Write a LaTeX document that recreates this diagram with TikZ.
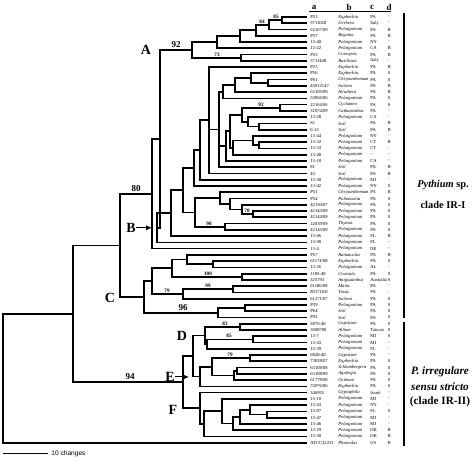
\documentclass[tikz,border=0pt]{standalone}
\usepackage{fontspec}
\setmainfont{Liberation Serif}
\newfontfamily\barfont{Liberation Sans}
\usetikzlibrary{arrows.meta}

\begin{document}
\begin{tikzpicture}[x=0.5pt, y=-3.13pt,
    branch/.style={line width=0.85pt},
    leaf/.style={anchor=west, inner sep=0pt, font=\fontsize{2.3}{2.6}\selectfont},
    boot/.style={anchor=south, inner sep=0.5pt, font=\bfseries\fontsize{2.6}{3}\selectfont},
    bootbig/.style={anchor=south, inner sep=1pt, font=\bfseries\fontsize{4.5}{5}\selectfont},
    cladeletter/.style={inner sep=0pt, font=\bfseries\fontsize{7}{8}\selectfont},
    groupname/.style={inner sep=0pt, font=\bfseries\fontsize{5.6}{6}\selectfont},
    colhead/.style={inner sep=0pt, font=\bfseries\fontsize{4.5}{5}\selectfont}]
    \useasboundingbox (0,-1.716) rectangle (474,72.25);

    % isolates: code / host / origin / resistance
    \foreach \row/\code/\host/\place/\res in {
        1/P53/Euphorbia/PA/-, 2/3711028/Gerbera/Italy/-, 3/{63167/09}/Pelargonium/PA/R,
        4/P57/Begonia/PA/R, 5/13-40/Pelargonium/NY/-, 6/13-22/Pelargonium/CA/R,
        7/P53/Coreopsis/PA/R, 8/3711448/Basilicum/Italy/-, 9/P23/Euphorbia/PA/R,
        10/P56/Euphorbia/PA/S, 11/P61/Chrysanthemum/PA/S, 12/45012147/Iochem/PA/R,
        13/{63105/09}/Heuchera/PA/R, 14/{52066/06}/Pelargonium/PA/S, 15/{22164/06}/Cyclamen/PA/S,
        16/{31074/09}/Catharanthus/PA/-, 17/13-28/Pelargonium/CA/-, 18/S1/Soil/PA/R,
        19/6-12/Soil/PA/R, 20/13-44/Pelargonium/NY/-, 21/13-32/Pelargonium/CT/R,
        22/13-33/Pelargonium/CT/-, 23/13-40/Pelargonium/-/-, 24/13-18/Pelargonium/CA/-,
        25/81/Soil/PA/R, 26/43/Soil/PA/R, 27/13-30/Pelargonium/MI/-,
        28/13-42/Pelargonium/NY/S, 29/P51/Chrysanthemum/PA/R, 30/P54/Pulmonaria/PA/S,
        31/{42150/07}/Pelargonium/PA/S, 32/{42143/09}/Pelargonium/PA/S, 33/{42144/09}/Pelargonium/PA/S,
        34/{22039/09}/Thymus/PA/S, 35/{42145/09}/Pelargonium/PA/S, 36/13-06/Pelargonium/FL/R,
        37/13-08/Pelargonium/FL/-, 38/13-4/Pelargonium/NE/-, 39/P57/Ranunculus/PA/R,
        40/{61174/08}/Euphorbia/PA/S, 41/13-26/Pelargonium/AL/-, 42/1185-48/Crassula/PA/S,
        43/325793/Anigozanthus/Australia/S, 44/{61186/08}/Malus/PA/-, 45/{801716/8}/Taxus/PA/-,
        46/{61271/07}/Iochem/PA/S, 47/P39/Pelargonium/PA/S, 48/P64/Soil/PA/S,
        49/P92/Soil/PA/S, 50/2876-40/Capsicum/PA/S, 51/3608700/Allium/Taiwan/S,
        52/13-7/Pelargonium/MI/S, 53/13-43/Pelargonium/MI/-, 54/13-39/Pelargonium/FL/-,
        55/6828-40/Capsicum/PA/-, 56/{73028/07}/Euphorbia/PA/S, 57/{63108/08}/Schlumbergera/PA/S,
        58/{63108/09}/Aquilegia/PA/S, 59/{61778/08}/Ocimum/PA/S, 60/{72076/06}/Euphorbia/PA/S,
        61/346955/Gypsophila/Israel/-, 62/13-10/Pelargonium/MI/-, 63/13-43/Pelargonium/NY/-,
        64/13-07/Pelargonium/FL/S, 65/13-47/Pelargonium/MI/-, 66/13-46/Pelargonium/MI/-,
        67/13-29/Pelargonium/OK/R, 68/13-30/Pelargonium/OK/R, 69/ATCC32231/Phaseolus/US/R}{
        \coordinate (l\row) at (307,\row);
        \node[leaf] (code\row) at (310,\row) {\code};
        \node[leaf, font=\fontsize{2.3}{2.6}\selectfont\itshape] (host\row) at (338,\row) {\host};
        \node[leaf] (place\row) at (370,\row) {\place};
        \node[leaf] (res\row) at (387.5,\row) {\res};
    }

    % column heads
    \node[colhead] (ha) at (314,-0.6) {a};
    \node[colhead] (hb) at (349,-0.6) {b};
    \node[colhead] (hc) at (372,-0.6) {c};
    \node[colhead] (hd) at (389,-0.6) {d};
    \draw[line width=0.5pt] (309,0.2) -- (391,0.2);

    % clade A
    \coordinate (n85) at (282,1.5);
    \coordinate (nA3) at (269,2.25);
    \coordinate (n84) at (256,3.125);
    \coordinate (nA5) at (240,4.06);
    \coordinate (nA6) at (217,5.03);
    \coordinate (n73) at (241,7.5);
    \coordinate (nA) at (192,6.27);
    % clade B
    \coordinate (nB268) at (268,11.5);
    \coordinate (nB251) at (251,10.75);
    \coordinate (nB235) at (235,11.875);
    \coordinate (nB223) at (223,12.94);
    \coordinate (n92) at (280,15.5);
    \coordinate (nB259) at (259,18.5);
    \coordinate (nB248) at (248,17.75);
    \coordinate (nB242) at (242,16.625);
    \coordinate (nB259b) at (259,21.5);
    \coordinate (nB253) at (253,20.75);
    \coordinate (nB233) at (233,21.875);
    \coordinate (nB230) at (230,19.25);
    \coordinate (nB226) at (226,21.625);
    \coordinate (nB219) at (219,18.97);
    \coordinate (nB209) at (209,17.5);
    \coordinate (nB200) at (200,22.25);
    \coordinate (nB194) at (194,25.125);
    \coordinate (n78) at (253,32.5);
    \coordinate (nB242c) at (242,31.75);
    \coordinate (nB230c) at (230,30.875);
    \coordinate (nB220) at (220,29.94);
    \coordinate (n90) at (225,34.5);
    \coordinate (nB195) at (195,32.22);
    \coordinate (nB183) at (183,28.67);
    \coordinate (nB171) at (171,32.33);
    \coordinate (nB) at (157,34.67);
    \coordinate (nAB) at (160,20.47);
    \coordinate (n80) at (152,29.24);
    % clade C
    \coordinate (nC213) at (213,40.5);
    \coordinate (nC187) at (187,39.75);
    \coordinate (n100) at (242,42.5);
    \coordinate (nC172) at (172,41.125);
    \coordinate (n99) at (233,44.5);
    \coordinate (nC79) at (183,45.25);
    \coordinate (nC1) at (152,43.19);
    \coordinate (nC245) at (245,47.5);
    \coordinate (n96) at (218,48.25);
    \coordinate (nC) at (144,45.72);
    \coordinate (nIR1) at (120,37.48);
    % clades D, E, F
    \coordinate (n83) at (240,50.5);
    \coordinate (nD85) at (253,52.5);
    \coordinate (nD1) at (207,53.25);
    \coordinate (nD) at (205,51.875);
    \coordinate (nE79) at (250,55.5);
    \coordinate (nE237) at (237,57.5);
    \coordinate (nE234) at (234,58.25);
    \coordinate (nE212) at (212,56.875);
    \coordinate (nE200) at (200,58.44);
    \coordinate (nDE) at (193,55.16);
    \coordinate (nF6) at (267,64.5);
    \coordinate (nF5) at (250,63.75);
    \coordinate (nF4) at (240,64.875);
    \coordinate (nF3) at (233,65.94);
    \coordinate (nF2) at (222,63.97);
    \coordinate (nF1) at (204,65.98);
    \coordinate (nF) at (200,63.49);
    \coordinate (nE) at (183,59.33);
    \coordinate (nII) at (73,48.4);
    \coordinate (root) at (3,58.7);

    \draw[branch] (n85) |- (l1) (n85) |- (l2);
    \draw[branch] (nA3) |- (n85) (nA3) |- (l3);
    \draw[branch] (n84) |- (nA3) (n84) |- (l4);
    \draw[branch] (nA5) |- (n84) (nA5) |- (l5);
    \draw[branch] (nA6) |- (nA5) (nA6) |- (l6);
    \draw[branch] (n73) |- (l7) (n73) |- (l8);
    \draw[branch] (nA) |- (nA6) (nA) |- (n73);
    \draw[branch] (nB268) |- (l11) (nB268) |- (l12);
    \draw[branch] (nB251) |- (l10) (nB251) |- (nB268);
    \draw[branch] (nB235) |- (nB251) (nB235) |- (l13);
    \draw[branch] (nB223) |- (nB235) (nB223) |- (l14);
    \draw[branch] (n92) |- (l15) (n92) |- (l16);
    \draw[branch] (nB259) |- (l18) (nB259) |- (l19);
    \draw[branch] (nB248) |- (l17) (nB248) |- (nB259);
    \draw[branch] (nB242) |- (n92) (nB242) |- (nB248);
    \draw[branch] (nB259b) |- (l21) (nB259b) |- (l22);
    \draw[branch] (nB253) |- (l20) (nB253) |- (nB259b);
    \draw[branch] (nB233) |- (nB253) (nB233) |- (l23);
    \draw[branch] (nB230) |- (nB242) (nB230) |- (nB233);
    \draw[branch] (nB226) |- (nB230) (nB226) |- (l24);
    \draw[branch] (nB219) |- (nB223) (nB219) |- (nB226) (nB219) |- (l25);
    \draw[branch] (nB209) |- (l9) (nB209) |- (nB219) (nB209) |- (l26);
    \draw[branch] (nB200) |- (nB209) (nB200) |- (l27);
    \draw[branch] (nB194) |- (nB200) (nB194) |- (l28);
    \draw[branch] (n78) |- (l32) (n78) |- (l33);
    \draw[branch] (nB242c) |- (l31) (nB242c) |- (n78);
    \draw[branch] (nB230c) |- (l30) (nB230c) |- (nB242c);
    \draw[branch] (nB220) |- (l29) (nB220) |- (nB230c);
    \draw[branch] (n90) |- (l34) (n90) |- (l35);
    \draw[branch] (nB195) |- (nB220) (nB195) |- (n90);
    \draw[branch] (nB183) |- (nB194) (nB183) |- (nB195);
    \draw[branch] (nB171) |- (nB183) (nB171) |- (l36);
    \draw[branch] (nB) |- (nB171) (nB) |- (l37);
    \draw[branch] (nAB) |- (nA) (nAB) |- (nB);
    \draw[branch] (n80) |- (nAB) (n80) |- (l38);
    \draw[branch] (nC213) |- (l40) (nC213) |- (l41);
    \draw[branch] (nC187) |- (l39) (nC187) |- (nC213);
    \draw[branch] (n100) |- (l42) (n100) |- (l43);
    \draw[branch] (nC172) |- (nC187) (nC172) |- (n100);
    \draw[branch] (n99) |- (l44) (n99) |- (l45);
    \draw[branch] (nC79) |- (n99) (nC79) |- (l46);
    \draw[branch] (nC1) |- (nC172) (nC1) |- (nC79);
    \draw[branch] (nC245) |- (l47) (nC245) |- (l48);
    \draw[branch] (n96) |- (nC245) (n96) |- (l49);
    \draw[branch] (nC) |- (nC1) (nC) |- (n96);
    \draw[branch] (nIR1) |- (n80) (nIR1) |- (nC);
    \draw[branch] (n83) |- (l50) (n83) |- (l51);
    \draw[branch] (nD85) |- (l52) (nD85) |- (l53);
    \draw[branch] (nD1) |- (nD85) (nD1) |- (l54);
    \draw[branch] (nD) |- (n83) (nD) |- (nD1);
    \draw[branch] (nE79) |- (l55) (nE79) |- (l56);
    \draw[branch] (nE237) |- (l57) (nE237) |- (l58);
    \draw[branch] (nE234) |- (nE237) (nE234) |- (l59);
    \draw[branch] (nE212) |- (nE79) (nE212) |- (nE234);
    \draw[branch] (nE200) |- (nE212) (nE200) |- (l60);
    \draw[branch] (nDE) |- (nD) (nDE) |- (nE200);
    \draw[branch] (nF6) |- (l64) (nF6) |- (l65);
    \draw[branch] (nF5) |- (l63) (nF5) |- (nF6);
    \draw[branch] (nF4) |- (nF5) (nF4) |- (l66);
    \draw[branch] (nF3) |- (nF4) (nF3) |- (l67);
    \draw[branch] (nF2) |- (l62) (nF2) |- (nF3);
    \draw[branch] (nF1) |- (nF2) (nF1) |- (l68);
    \draw[branch] (nF) |- (l61) (nF) |- (nF1);
    \draw[branch] (nE) |- (nDE) (nE) |- (nF);
    \draw[branch] (nII) |- (nIR1) (nII) |- (nE);
    \draw[branch] (root) |- (nII) (root) |- (l69);

    % bootstrap values
    \node[bootbig] (bs92A) at (176,6.27) {92};
    \node[bootbig] (bs80) at (136,29.24) {80};
    \node[bootbig] (bs96) at (183,48.25) {96};
    \node[bootbig] (bs94) at (130,59.33) {94};
    \node[boot] (bs85A) at (276,1.5) {85};
    \node[boot] (bs84) at (262,2.25) {84};
    \node[boot] (bs73) at (217,7.5) {73};
    \node[boot] (bs92B) at (261,15.5) {92};
    \node[boot] (bs78) at (247,32.5) {78};
    \node[boot] (bs90) at (209,34.5) {90};
    \node[boot] (bs100) at (208,42.5) {100};
    \node[boot] (bs79C) at (167,45.25) {79};
    \node[boot] (bs99) at (208,44.5) {99};
    \node[boot] (bs83) at (225,50.5) {83};
    \node[boot] (bs85D) at (229,52.5) {85};
    \node[boot] (bs79E) at (230,55.5) {79};

    % clade letters
    \node[cladeletter] (labA) at (146,6.27) {A};
    \node[cladeletter] (labB) at (131,34.67) {B};
    \node[cladeletter] (labC) at (110,45.9) {C};
    \node[cladeletter] (labD) at (182,51.96) {D};
    \node[cladeletter] (labE) at (170,58.5) {E};
    \node[cladeletter] (labF) at (173,63.8) {F};
    \coordinate (tipE) at (189,58.5);
    \draw[line width=0.5pt, -{Latex[length=3pt,width=2.6pt]}] (labB) -- (labB -| n80);
    \draw[line width=0.5pt, -{Latex[length=3pt,width=2.6pt]}] (labE) -- (tipE);

    % groups
    \coordinate (barItop) at (404,0.36);
    \coordinate (barIbot) at (404,49.1);
    \coordinate (barIItop) at (404,49.7);
    \coordinate (barIIbot) at (404,69.6);
    \draw[line width=1.1pt] (barItop) -- (barIbot);
    \draw[line width=1.1pt] (barIItop) -- (barIIbot);
    \node[groupname, font=\bfseries\fontsize{5.2}{6}\selectfont] (pyth) at (443,27.8) {\textit{Pythium} sp.};
    \node[groupname, font=\bfseries\fontsize{5.2}{6}\selectfont] (cladeI) at (443,31.0) {clade IR-I};
    \node[groupname] (pirr) at (440,57.7) {\textit{P. irregulare}};
    \node[groupname] (sensu) at (440,60.1) {\textit{sensu stricto}};
    \node[groupname] (cladeII) at (440,62.5) {(clade IR-II)};

    % scale
    \coordinate (sc0) at (3,70.8);
    \coordinate (sc1) at (48,70.8);
    \draw[line width=0.5pt] (sc0) -- (sc1);
    \node[anchor=west, inner sep=0pt, font=\barfont\fontsize{3.3}{4}\selectfont] (sclab) at (51,70.8) {10 changes};
\end{tikzpicture}
\end{document}
